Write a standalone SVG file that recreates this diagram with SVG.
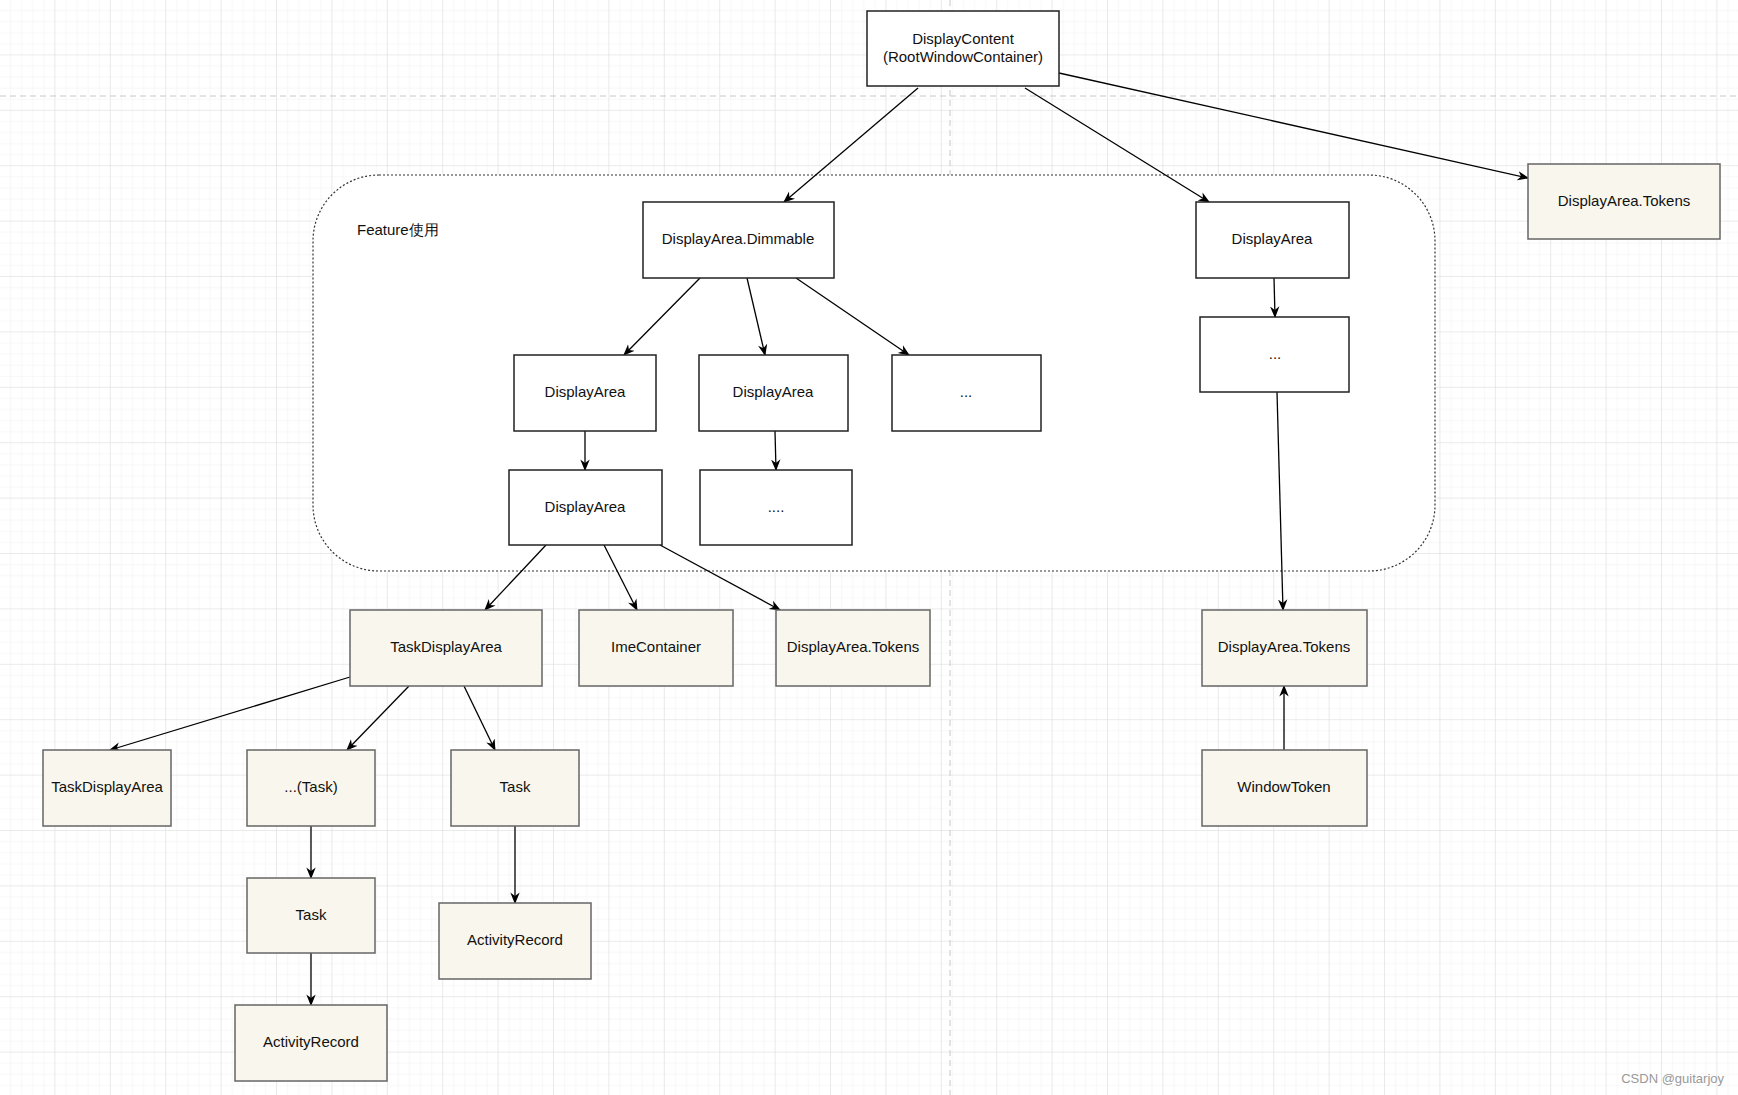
<svg xmlns="http://www.w3.org/2000/svg" width="1738" height="1095" viewBox="0 0 1738 1095">
<defs>
<pattern id="minor" width="11.08" height="11.08" patternUnits="userSpaceOnUse"><path d="M11.08 0V11.08H0" fill="none" stroke="#efefef" stroke-width="1"/></pattern>
<pattern id="major" width="55.4" height="55.4" patternUnits="userSpaceOnUse"><rect width="55.4" height="55.4" fill="url(#minor)"/><path d="M55.4 0V55.4H0" fill="none" stroke="#dcdcdc" stroke-width="1"/></pattern>
<marker id="ah" viewBox="0 0 10 10" refX="9" refY="5" markerWidth="9" markerHeight="9" orient="auto"><path d="M0 1L10 5L0 9L3 5Z" fill="#000"/></marker>
</defs>
<style>
.w rect{fill:#fff;stroke:#222;stroke-width:1.5}
.b rect{fill:#f9f7ed;stroke:#666;stroke-width:1.5}
text{font-family:"Liberation Sans",Arial,sans-serif;font-size:15px;fill:#111;text-anchor:middle}
#edges line{stroke:#000;stroke-width:1.3;marker-end:url(#ah)}
</style>
<rect width="1738" height="1095" fill="#fff"/>
<rect width="1738" height="1095" fill="url(#major)"/>
<line x1="0" y1="96" x2="1738" y2="96" stroke="#c8c8c8" stroke-dasharray="6,4"/>
<line x1="950" y1="0" x2="950" y2="1095" stroke="#c8c8c8" stroke-dasharray="6,4"/>
<g id="container"><rect x="313" y="175" width="1122" height="396" rx="66" fill="#fff" stroke="#333" stroke-width="1.2" stroke-dasharray="2,2"/>
<text x="357" y="235" style="text-anchor:start">Feature使用</text></g>
<g id="edges">
<line x1="918" y1="88" x2="784" y2="202"/>
<line x1="1025" y1="88" x2="1209" y2="202"/>
<line x1="1059" y1="73" x2="1528" y2="178"/>
<line x1="700" y1="278" x2="624" y2="355"/>
<line x1="747" y1="278" x2="765" y2="355"/>
<line x1="796" y1="278" x2="909" y2="355"/>
<line x1="585" y1="431" x2="585" y2="470"/>
<line x1="775" y1="431" x2="776" y2="470"/>
<line x1="1274" y1="278" x2="1275" y2="317"/>
<line x1="1277" y1="392" x2="1283" y2="610"/>
<line x1="546" y1="545" x2="485" y2="610"/>
<line x1="604" y1="545" x2="637" y2="610"/>
<line x1="660" y1="545" x2="780" y2="610"/>
<line x1="350" y1="677" x2="110" y2="750"/>
<line x1="409" y1="686" x2="347" y2="750"/>
<line x1="464" y1="686" x2="495" y2="750"/>
<line x1="311" y1="826" x2="311" y2="878"/>
<line x1="311" y1="953" x2="311" y2="1005"/>
<line x1="515" y1="826" x2="515" y2="903"/>
<line x1="1284" y1="750" x2="1284" y2="686"/>
</g>
<g id="n1" class="w"><rect x="867" y="11" width="192" height="75"/><text x="963" y="44">DisplayContent</text><text x="963" y="62">(RootWindowContainer)</text></g>
<g id="n2" class="w"><rect x="643" y="202" width="191" height="76"/><text x="738" y="244">DisplayArea.Dimmable</text></g>
<g id="n3" class="w"><rect x="1196" y="202" width="153" height="76"/><text x="1272" y="244">DisplayArea</text></g>
<g id="n4" class="b"><rect x="1528" y="164" width="192" height="75"/><text x="1624" y="206">DisplayArea.Tokens</text></g>
<g id="n5" class="w"><rect x="514" y="355" width="142" height="76"/><text x="585" y="397">DisplayArea</text></g>
<g id="n6" class="w"><rect x="699" y="355" width="149" height="76"/><text x="773" y="397">DisplayArea</text></g>
<g id="n7" class="w"><rect x="892" y="355" width="149" height="76"/><text x="966" y="397">...</text></g>
<g id="n8" class="w"><rect x="1200" y="317" width="149" height="75"/><text x="1275" y="359">...</text></g>
<g id="n9" class="w"><rect x="509" y="470" width="153" height="75"/><text x="585" y="512">DisplayArea</text></g>
<g id="n10" class="w"><rect x="700" y="470" width="152" height="75"/><text x="776" y="512">....</text></g>
<g id="n11" class="b"><rect x="350" y="610" width="192" height="76"/><text x="446" y="652">TaskDisplayArea</text></g>
<g id="n12" class="b"><rect x="579" y="610" width="154" height="76"/><text x="656" y="652">ImeContainer</text></g>
<g id="n13" class="b"><rect x="776" y="610" width="154" height="76"/><text x="853" y="652">DisplayArea.Tokens</text></g>
<g id="n14" class="b"><rect x="1202" y="610" width="165" height="76"/><text x="1284" y="652">DisplayArea.Tokens</text></g>
<g id="n15" class="b"><rect x="43" y="750" width="128" height="76"/><text x="107" y="792">TaskDisplayArea</text></g>
<g id="n16" class="b"><rect x="247" y="750" width="128" height="76"/><text x="311" y="792">...(Task)</text></g>
<g id="n17" class="b"><rect x="451" y="750" width="128" height="76"/><text x="515" y="792">Task</text></g>
<g id="n18" class="b"><rect x="1202" y="750" width="165" height="76"/><text x="1284" y="792">WindowToken</text></g>
<g id="n19" class="b"><rect x="247" y="878" width="128" height="75"/><text x="311" y="920">Task</text></g>
<g id="n20" class="b"><rect x="439" y="903" width="152" height="76"/><text x="515" y="945">ActivityRecord</text></g>
<g id="n21" class="b"><rect x="235" y="1005" width="152" height="76"/><text x="311" y="1047">ActivityRecord</text></g>
<text x="1724" y="1083" style="text-anchor:end;font-size:13px;fill:#999">CSDN @guitarjoy</text>
</svg>
